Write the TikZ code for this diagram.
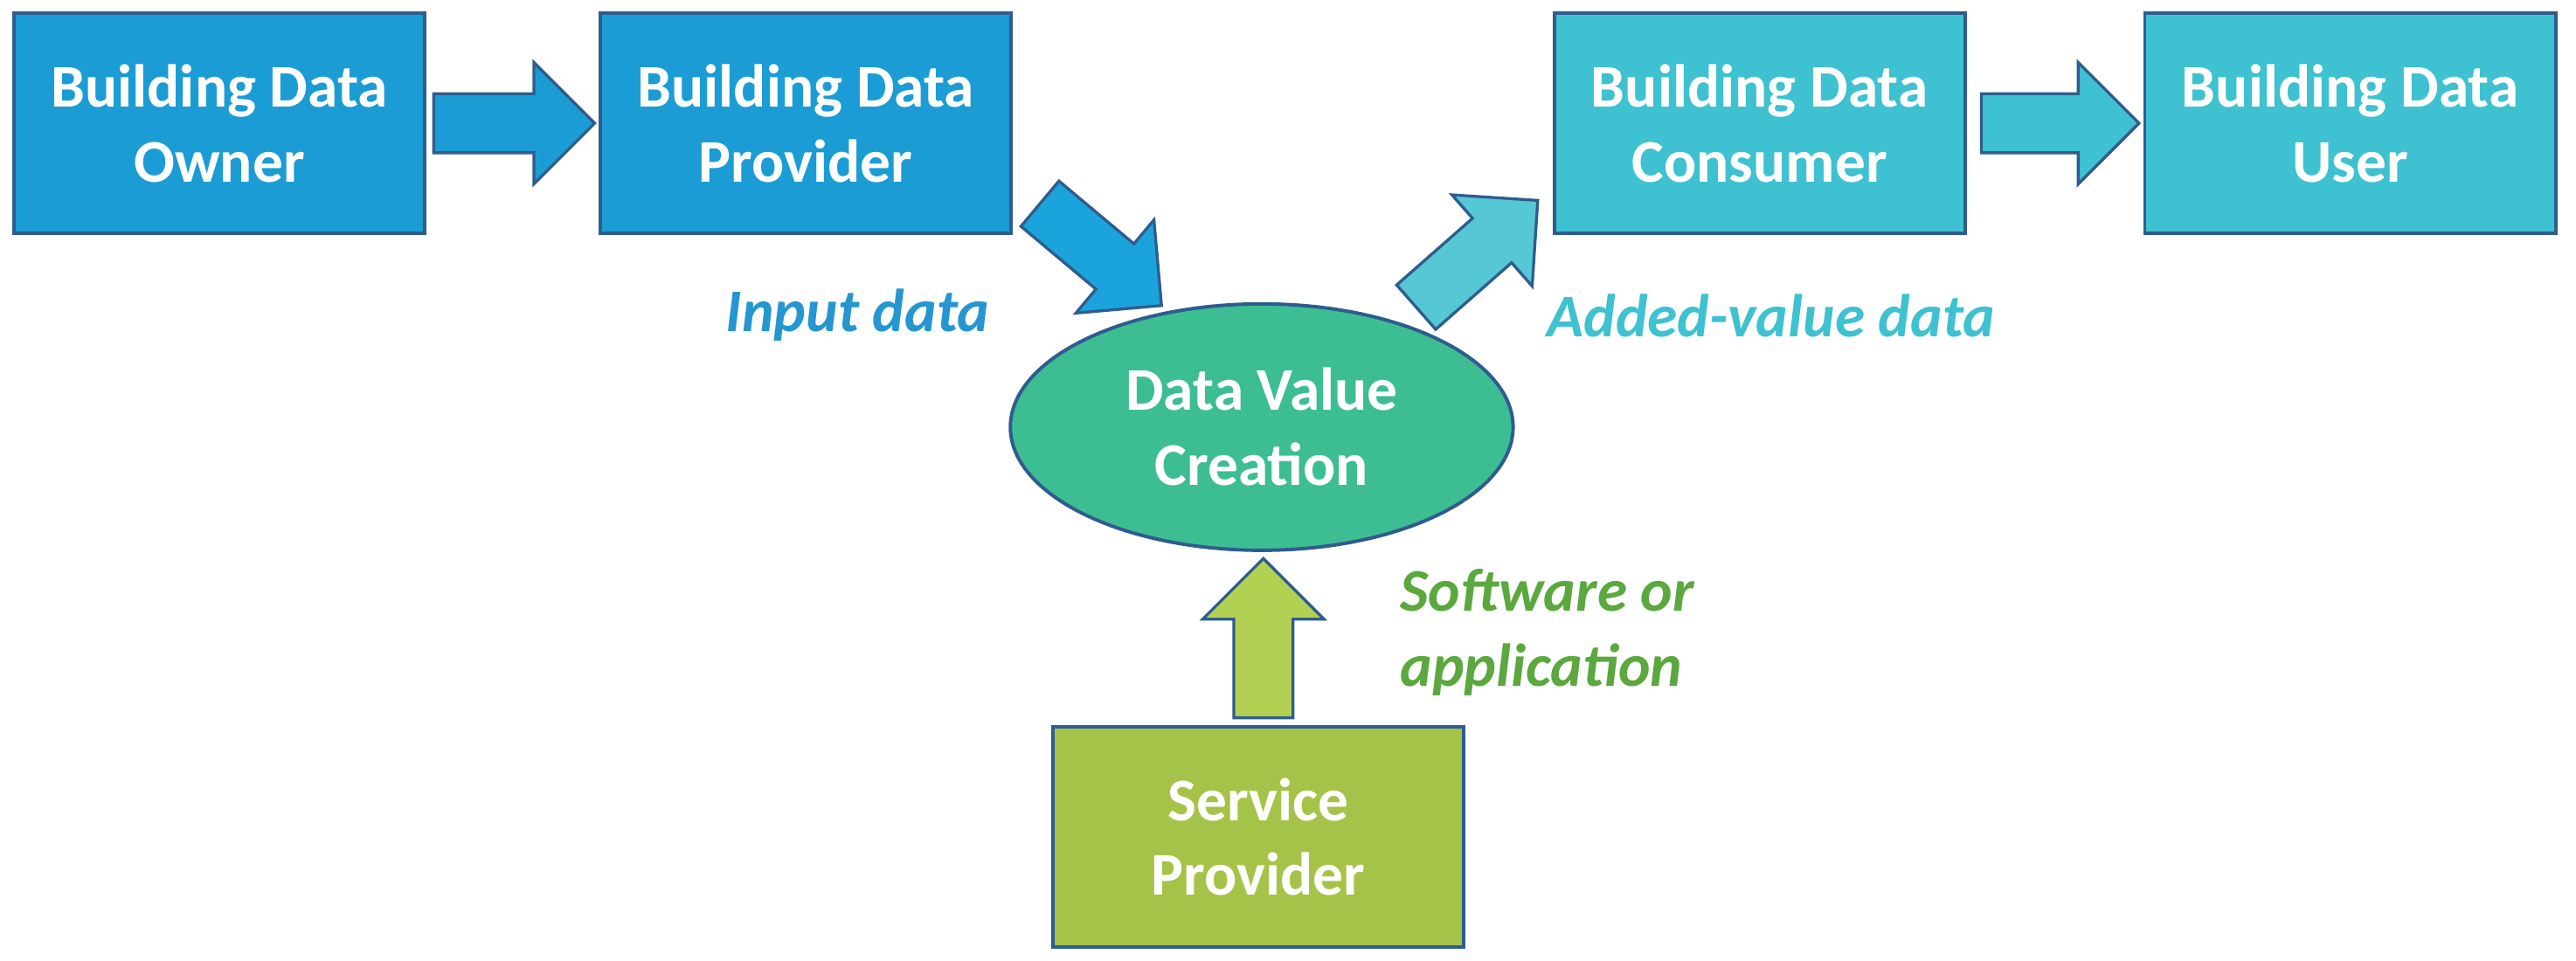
\documentclass[tikz,border=0pt]{standalone}
\usepackage{fontspec}
\setmainfont{Carlito}
\usetikzlibrary{calc,shapes.geometric}
\definecolor{ownerblue}{HTML}{1B9CD4}
\definecolor{consumercyan}{HTML}{3EC1D0}
\definecolor{valuegreen}{HTML}{3DBE92}
\definecolor{serviceolive}{HTML}{A6C349}
\definecolor{edgeblue}{HTML}{2F5C8E}
\definecolor{inblue}{HTML}{1BA3DC}
\definecolor{outcyan}{HTML}{55C7D5}
\definecolor{upgreen}{HTML}{B2D152}
\definecolor{labgreen}{HTML}{5AA83E}
\definecolor{labblue}{HTML}{2596CF}
\tikzset{
  actor/.style={draw=edgeblue, line width=0.6pt, minimum width=2.5cm, minimum height=1.34cm,
    text=white, align=center, font=\fontsize{10.5}{13}\selectfont\bfseries},
  lab/.style={font=\fontsize{10.5}{13}\selectfont\bfseries\itshape, align=left}
}
% block arrow from #1 to #2 filled with #3
\newcommand{\blockarrow}[3]{%
  \coordinate (m) at ($(#2)!0.37cm!(#1)$);
  \draw[draw=edgeblue, line width=0.5pt, fill=#3]
    ($(#1)!0.18cm!90:(#2)$) -- ($(m)!0.18cm!-90:(#1)$) -- ($(m)!0.37cm!-90:(#1)$) -- (#2)
    -- ($(m)!0.37cm!90:(#1)$) -- ($(m)!0.18cm!90:(#1)$) -- ($(#1)!0.18cm!-90:(#2)$) -- cycle;}
\begin{document}
\begin{tikzpicture}
\useasboundingbox (0,0) rectangle (15.68,-5.85);
\node[actor, fill=ownerblue] (owner) at (1.335,-0.75) {Building Data\\Owner};
\node[actor, fill=ownerblue] (provider) at (4.905,-0.75) {Building Data\\Provider};
\node[actor, fill=consumercyan] (consumer) at (10.71,-0.75) {Building Data\\Consumer};
\node[actor, fill=consumercyan] (user) at (14.305,-0.75) {Building Data\\User};
\node[draw=edgeblue, line width=0.6pt, ellipse, fill=valuegreen, minimum width=3.06cm,
  minimum height=1.5cm, text=white, align=center, font=\fontsize{10.5}{13}\selectfont\bfseries]
  (value) at (7.68,-2.6) {Data Value\\Creation};
\node[actor, fill=serviceolive] (service) at (7.66,-5.095) {Service\\Provider};
% arrows
\coordinate (a1s) at (2.64,-0.75); \coordinate (a1e) at (3.62,-0.75);
\blockarrow{a1s}{a1e}{ownerblue}
\coordinate (a2s) at (6.33,-1.24); \coordinate (a2e) at (7.07,-1.86);
\blockarrow{a2s}{a2e}{inblue}
\coordinate (a3s) at (8.62,-1.87); \coordinate (a3e) at (9.36,-1.22);
\blockarrow{a3s}{a3e}{outcyan}
\coordinate (a4s) at (12.06,-0.75); \coordinate (a4e) at (13.02,-0.75);
\blockarrow{a4s}{a4e}{consumercyan}
\coordinate (a5s) at (7.69,-4.37); \coordinate (a5e) at (7.69,-3.40);
\blockarrow{a5s}{a5e}{upgreen}
% labels
\node[lab, text=labblue] (inlab) at (5.22,-1.92) {Input data};
\node[lab, text=consumercyan] (outlab) at (10.78,-1.92) {Added-value data};
\node[lab, text=labgreen, anchor=west] (swlab) at (8.40,-3.85) {Software or\\application};
\end{tikzpicture}
\end{document}
